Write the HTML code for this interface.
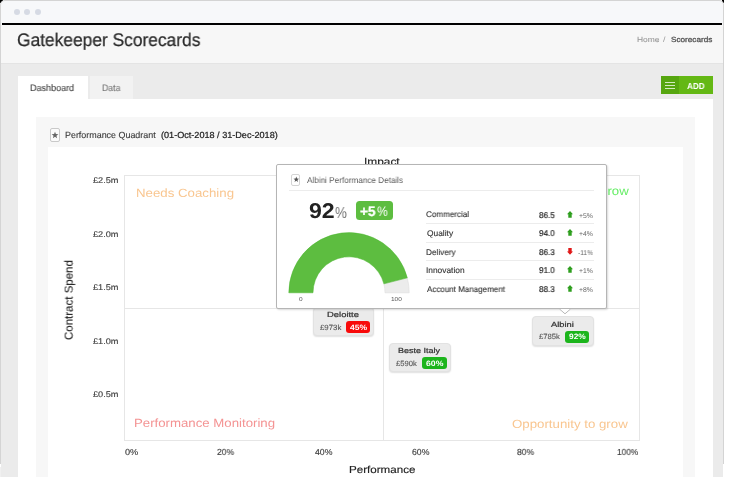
<!DOCTYPE html>
<html><head><meta charset="utf-8"><style>
html,body{margin:0;padding:0;width:729px;height:477px;overflow:hidden;background:#fff;}
body{position:relative;font-family:"Liberation Sans", sans-serif;}
.r{position:absolute;box-sizing:border-box;}
.t{position:absolute;white-space:nowrap;font-family:"Liberation Sans", sans-serif;transform-origin:0 0;text-rendering:geometricPrecision;will-change:transform;}
</style></head><body>
<div class="r" style="left:0px;top:0px;width:2.50px;height:2.50px;background:#000;border-radius:0 0 2px 0;"></div>
<div class="r" style="left:721.5px;top:0px;width:2.50px;height:2.50px;background:#000;border-radius:0 0 0 2px;"></div>
<div class="r" style="left:0px;top:0px;width:724.00px;height:463.50px;background:#d4d4d4;border-radius:5px 5px 0 0;"></div>
<div class="r" style="left:1px;top:1px;width:722.00px;height:476.00px;background:#f7f8fa;border-radius:4px 4px 0 0;"></div>
<div class="r" style="left:0px;top:467px;width:1.00px;height:10.00px;background:#f0f0f0;"></div>
<div class="r" style="left:13.7px;top:9px;width:6px;height:6px;border-radius:50%;background:#d6dae4"></div>
<div class="r" style="left:24.4px;top:9px;width:6px;height:6px;border-radius:50%;background:#d6dae4"></div>
<div class="r" style="left:35.1px;top:9px;width:6px;height:6px;border-radius:50%;background:#d6dae4"></div>
<div class="r" style="left:2px;top:23px;width:720.00px;height:2.00px;background:#000;"></div>
<div class="r" style="left:1px;top:25px;width:722.00px;height:38.00px;background:#f7f7f7;"></div>
<div class="r" style="left:1px;top:63px;width:722.00px;height:1.00px;background:#e4e4e4;"></div>
<div class="r" style="left:1px;top:64px;width:722.00px;height:413.00px;background:#ebebeb;"></div>
<div class="r" style="left:18px;top:76px;width:70.00px;height:23.00px;background:#fff;"></div>
<div class="r" style="left:90px;top:76px;width:43.00px;height:23.00px;background:#f2f2f2;"></div>
<div class="r" style="left:661px;top:76px;width:52.00px;height:18.00px;background:#64b814;"></div>
<div class="r" style="left:661px;top:76px;width:18.00px;height:18.00px;background:#56a60f;"></div>
<div class="r" style="left:664.5px;top:82.2px;width:10.30px;height:1.00px;background:#d3ebc0;"></div>
<div class="r" style="left:664.5px;top:85.0px;width:10.30px;height:1.00px;background:#d3ebc0;"></div>
<div class="r" style="left:664.5px;top:87.7px;width:10.30px;height:1.00px;background:#d3ebc0;"></div>
<div class="r" style="left:18px;top:99px;width:695.00px;height:378.00px;background:#fff;"></div>
<div class="r" style="left:36px;top:117px;width:659.00px;height:360.00px;background:#f7f7f7;"></div>
<div class="r" style="left:48px;top:147px;width:635.00px;height:330.00px;background:#fff;"></div>
<div class="r" style="left:49.5px;top:127.8px;width:10.5px;height:14.3px;border:1px solid #c9c9c9;border-radius:2px;background:#fbfbfb"></div>
<svg class="r" style="left:50.9px;top:131.3px" width="8" height="8" viewBox="0 0 9 9"><path d="M4.5 0.8 L5.5 3.5 L8.3 3.6 L6.1 5.3 L6.9 8.1 L4.5 6.5 L2.1 8.1 L2.9 5.3 L0.7 3.6 L3.5 3.5 Z" fill="#666"/></svg>
<div class="r" style="left:124px;top:175px;width:516px;height:266px;border:1px solid #e6e6e6"></div>
<div class="r" style="left:382.5px;top:176px;width:1.00px;height:264.00px;background:#e6e6e6;"></div>
<div class="r" style="left:125px;top:308px;width:514.00px;height:1.00px;background:#e6e6e6;"></div>
<div class="t" style="left:75.4px;top:340px;font-size:11.5px;line-height:11.5px;color:#222;-webkit-text-stroke:0.1px #222;transform-origin:0 0;transform:rotate(-90deg) translateY(-10.4px)">Contract Spend</div>
<div class="t" style="right:100.4px;top:184.5px;font-size:12px;line-height:12px;color:#66ee66;transform-origin:100% 0;transform:scaleX(1.1)">Invest to grow</div>
<div class="r" style="left:313px;top:306.6px;width:61.20px;height:29.40px;background:#ebebeb;border:1px solid #e2e2e2;border-radius:4px;box-shadow:0 1px 1.5px rgba(0,0,0,.12)"></div>
<div class="r" style="left:345.9px;top:321.1px;width:24.10px;height:12.10px;background:#f80a0a;border-radius:3px"></div>
<div class="r" style="left:389.0px;top:342.8px;width:61.90px;height:29.20px;background:#ebebeb;border:1px solid #e2e2e2;border-radius:4px;box-shadow:0 1px 1.5px rgba(0,0,0,.12)"></div>
<div class="r" style="left:421.7px;top:357.2px;width:25.10px;height:11.90px;background:#1cb51c;border-radius:3px"></div>
<div class="r" style="left:532px;top:316px;width:61.60px;height:29.60px;background:#ebebeb;border:1px solid #e2e2e2;border-radius:4px;box-shadow:0 1px 1.5px rgba(0,0,0,.12)"></div>
<div class="r" style="left:565.4px;top:330.8px;width:23.80px;height:12.10px;background:#1cb51c;border-radius:3px"></div>
<div class="t" id="impact" style="left:364.017px;top:158.154px;font-size:10.29px;line-height:10.29px;font-weight:400;color:#222;-webkit-text-stroke:0.15px #222;transform:scaleX(1.1552);">Impact</div>
<div class="r" style="left:276px;top:164px;width:331px;height:145px;background:#fff;border:1px solid #b5b5b5;border-radius:2px;box-shadow:1px 1px 2px rgba(0,0,0,.15)"></div>
<svg class="r" style="left:558px;top:308.5px" width="14" height="6" viewBox="0 0 14 6"><path d="M1.5 0 L7 4.8 L12.5 0" fill="#fff" stroke="#b9b9b9" stroke-width="1"/></svg>
<div class="r" style="left:291.3px;top:173.5px;width:8.9px;height:12px;border:1px solid #d4d4d4;border-radius:2px"></div>
<svg class="r" style="left:292.8px;top:176.4px" width="6.6" height="6.6" viewBox="0 0 9 9"><path d="M4.5 0.8 L5.5 3.5 L8.3 3.6 L6.1 5.3 L6.9 8.1 L4.5 6.5 L2.1 8.1 L2.9 5.3 L0.7 3.6 L3.5 3.5 Z" fill="#555"/></svg>
<div class="r" style="left:289px;top:189.5px;width:305.00px;height:1.00px;background:#ececec;"></div>
<div class="r" style="left:356px;top:200.9px;width:36.80px;height:19.30px;background:#5dbd40;border-radius:3.5px;"></div>
<svg class="r" style="left:0;top:0" width="729" height="477"><path d="M407.31 277.83 A60.2 60.2 0 0 1 409.20 292.80 L385.00 292.80 A36 36 0 0 0 383.87 283.85 Z" fill="#ececec" stroke="#dedede" stroke-width="0.6"/><path d="M288.80 292.80 A60.2 60.2 0 0 1 407.31 277.83 L383.87 283.85 A36 36 0 0 0 313.00 292.80 Z" fill="#5dbd40" stroke="#4cb630" stroke-width="0.5"/></svg>
<svg class="r" style="left:567.2px;top:210.60px" width="6" height="7" viewBox="0 0 6 7"><path d="M3 0 L6 3.3 L4.7 3.3 L4.7 6.8 L1.3 6.8 L1.3 3.3 L0 3.3 Z" fill="#2e9e1e"/></svg>
<div class="r" style="left:426px;top:223px;width:168.00px;height:1.00px;background:#ececec;"></div>
<svg class="r" style="left:567.2px;top:229.15px" width="6" height="7" viewBox="0 0 6 7"><path d="M3 0 L6 3.3 L4.7 3.3 L4.7 6.8 L1.3 6.8 L1.3 3.3 L0 3.3 Z" fill="#2e9e1e"/></svg>
<div class="r" style="left:426px;top:242px;width:168.00px;height:1.00px;background:#ececec;"></div>
<svg class="r" style="left:567.2px;top:247.70px" width="6" height="7" viewBox="0 0 6 7"><path d="M3 6.8 L6 3.5 L4.7 3.5 L4.7 0 L1.3 0 L1.3 3.5 L0 3.5 Z" fill="#e01818"/></svg>
<div class="r" style="left:426px;top:260px;width:168.00px;height:1.00px;background:#ececec;"></div>
<svg class="r" style="left:567.2px;top:266.25px" width="6" height="7" viewBox="0 0 6 7"><path d="M3 0 L6 3.3 L4.7 3.3 L4.7 6.8 L1.3 6.8 L1.3 3.3 L0 3.3 Z" fill="#2e9e1e"/></svg>
<div class="r" style="left:426px;top:279px;width:168.00px;height:1.00px;background:#ececec;"></div>
<svg class="r" style="left:567.2px;top:284.80px" width="6" height="7" viewBox="0 0 6 7"><path d="M3 0 L6 3.3 L4.7 3.3 L4.7 6.8 L1.3 6.8 L1.3 3.3 L0 3.3 Z" fill="#2e9e1e"/></svg>
<div class="t" id="title" style="left:17.450px;top:30.614px;font-size:18.22px;line-height:18.22px;font-weight:400;color:#2a2a2a;-webkit-text-stroke:0.25px #2a2a2a;transform:scaleX(0.9539);">Gatekeeper Scorecards</div>
<div class="t" id="bc_home" style="left:637.383px;top:35.541px;font-size:7.44px;line-height:7.44px;font-weight:400;color:#999;-webkit-text-stroke:0.1px #999;transform:scaleX(1.1314);">Home</div>
<div class="t" id="bc_sl" style="left:663.300px;top:36.390px;font-size:7.44px;line-height:7.44px;font-weight:400;color:#999;transform:scaleX(1.1995);">/</div>
<div class="t" id="bc_sc" style="left:671.238px;top:36.390px;font-size:7.44px;line-height:7.44px;font-weight:400;color:#555;-webkit-text-stroke:0.3px #555;transform:scaleX(1.0982);">Scorecards</div>
<div class="t" id="tab1" style="left:29.534px;top:83.025px;font-size:9.43px;line-height:9.43px;font-weight:400;color:#444;-webkit-text-stroke:0.12px #444;transform:scaleX(0.9582);">Dashboard</div>
<div class="t" id="tab2" style="left:102.260px;top:82.737px;font-size:9.43px;line-height:9.43px;font-weight:400;color:#777;-webkit-text-stroke:0.12px #777;transform:scaleX(0.9211);">Data</div>
<div class="t" id="add" style="left:686.837px;top:81.686px;font-size:8.84px;line-height:8.84px;font-weight:700;color:#fff;transform:scaleX(0.9202);">ADD</div>
<div class="t" id="pq" style="left:64.845px;top:130.982px;font-size:8.9px;line-height:8.9px;font-weight:400;color:#3a3a3a;-webkit-text-stroke:0.12px #3a3a3a;transform:scaleX(1.0045);">Performance Quadrant</div>
<div class="t" id="pqd" style="left:160.565px;top:130.682px;font-size:8.9px;line-height:8.9px;font-weight:400;color:#222;-webkit-text-stroke:0.22px #222;transform:scaleX(1.0243);">(01-Oct-2018 / 31-Dec-2018)</div>
<div class="t" id="y25" style="left:92.500px;top:176.771px;font-size:8.26px;line-height:8.26px;font-weight:400;color:#404040;-webkit-text-stroke:0.15px #404040;transform:scaleX(1.1109);">£2.5m</div>
<div class="t" id="y20" style="left:92.500px;top:230.621px;font-size:8.26px;line-height:8.26px;font-weight:400;color:#404040;-webkit-text-stroke:0.15px #404040;transform:scaleX(1.1109);">£2.0m</div>
<div class="t" id="y15" style="left:92.500px;top:283.971px;font-size:8.26px;line-height:8.26px;font-weight:400;color:#404040;-webkit-text-stroke:0.15px #404040;transform:scaleX(1.1109);">£1.5m</div>
<div class="t" id="y10" style="left:92.500px;top:337.571px;font-size:8.26px;line-height:8.26px;font-weight:400;color:#404040;-webkit-text-stroke:0.15px #404040;transform:scaleX(1.1109);">£1.0m</div>
<div class="t" id="y05" style="left:92.500px;top:390.521px;font-size:8.26px;line-height:8.26px;font-weight:400;color:#404040;-webkit-text-stroke:0.15px #404040;transform:scaleX(1.1109);">£0.5m</div>
<div class="t" id="x0" style="left:125.403px;top:447.643px;font-size:8.71px;line-height:8.71px;font-weight:400;color:#404040;-webkit-text-stroke:0.15px #404040;transform:scaleX(1.0548);">0%</div>
<div class="t" id="x20" style="left:217.348px;top:447.643px;font-size:8.71px;line-height:8.71px;font-weight:400;color:#404040;-webkit-text-stroke:0.15px #404040;transform:scaleX(0.9762);">20%</div>
<div class="t" id="x40" style="left:314.701px;top:447.643px;font-size:8.71px;line-height:8.71px;font-weight:400;color:#404040;-webkit-text-stroke:0.15px #404040;transform:scaleX(0.9963);">40%</div>
<div class="t" id="x60" style="left:411.739px;top:447.643px;font-size:8.71px;line-height:8.71px;font-weight:400;color:#404040;-webkit-text-stroke:0.15px #404040;">60%</div>
<div class="t" id="x80" style="left:516.633px;top:447.643px;font-size:8.71px;line-height:8.71px;font-weight:400;color:#404040;-webkit-text-stroke:0.15px #404040;transform:scaleX(0.9771);">80%</div>
<div class="t" id="x100" style="left:616.789px;top:447.643px;font-size:8.71px;line-height:8.71px;font-weight:400;color:#404040;-webkit-text-stroke:0.15px #404040;transform:scaleX(0.9549);">100%</div>
<div class="t" id="perf" style="left:349.057px;top:466.084px;font-size:10.14px;line-height:10.14px;font-weight:400;color:#222;-webkit-text-stroke:0.15px #222;transform:scaleX(1.1456);">Performance</div>
<div class="t" id="q1" style="left:135.538px;top:187.998px;font-size:11.96px;line-height:11.96px;font-weight:400;color:#f9c690;transform:scaleX(1.1091);">Needs Coaching</div>
<div class="t" id="q3" style="left:134.441px;top:418.448px;font-size:11.96px;line-height:11.96px;font-weight:400;color:#f49393;transform:scaleX(1.1060);">Performance Monitoring</div>
<div class="t" id="q4" style="left:511.769px;top:419.498px;font-size:11.96px;line-height:11.96px;font-weight:400;color:#f9c690;transform:scaleX(1.1095);">Opportunity to grow</div>
<div class="t" id="tt_title" style="left:306.900px;top:175.681px;font-size:8.49px;line-height:8.49px;font-weight:400;color:#5a5a5a;transform:scaleX(0.9618);">Albini Performance Details</div>
<div class="t" id="big92" style="left:308.806px;top:200.586px;font-size:21.43px;line-height:21.43px;font-weight:700;color:#222;transform:scaleX(1.0795);">92</div>
<div class="t" id="bigpct" style="left:334.599px;top:205.721px;font-size:15.86px;line-height:15.86px;font-weight:400;color:#777;transform:scaleX(0.8434);">%</div>
<div class="t" id="b5" style="left:360.000px;top:205.338px;font-size:13.89px;line-height:13.89px;font-weight:700;color:#fff;-webkit-text-stroke:0.3px #fff;transform:scaleX(0.9860);">+5</div>
<div class="t" id="b5p" style="left:376.739px;top:205.057px;font-size:13.89px;line-height:13.89px;font-weight:400;color:#fff;transform:scaleX(0.8676);">%</div>
<div class="t" id="g0" style="left:299.104px;top:298.293px;font-size:5.71px;line-height:5.71px;font-weight:400;color:#555;transform:scaleX(1.1429);">0</div>
<div class="t" id="g100" style="left:391.143px;top:298.293px;font-size:5.71px;line-height:5.71px;font-weight:400;color:#555;transform:scaleX(1.1425);">100</div>
<div class="t" id="r0l" style="left:426.454px;top:210.231px;font-size:8.29px;line-height:8.29px;font-weight:400;color:#333;-webkit-text-stroke:0.12px #333;transform:scaleX(0.9771);">Commercial</div>
<div class="t" id="r0v" style="left:538.673px;top:210.736px;font-size:8.43px;line-height:8.43px;font-weight:400;color:#222;-webkit-text-stroke:0.2px #222;transform:scaleX(0.9585);">86.5</div>
<div class="t" id="r0p" style="left:579.429px;top:213.671px;font-size:6.86px;line-height:6.86px;font-weight:400;color:#666;transform:scaleX(0.9895);">+5%</div>
<div class="t" id="r1l" style="left:426.525px;top:228.981px;font-size:8.29px;line-height:8.29px;font-weight:400;color:#333;-webkit-text-stroke:0.12px #333;transform:scaleX(1.0125);">Quality</div>
<div class="t" id="r1v" style="left:538.673px;top:229.386px;font-size:8.43px;line-height:8.43px;font-weight:400;color:#222;-webkit-text-stroke:0.2px #222;transform:scaleX(0.9585);">94.0</div>
<div class="t" id="r1p" style="left:579.429px;top:232.071px;font-size:6.86px;line-height:6.86px;font-weight:400;color:#666;transform:scaleX(0.9895);">+4%</div>
<div class="t" id="r2l" style="left:426.205px;top:247.731px;font-size:8.29px;line-height:8.29px;font-weight:400;color:#333;-webkit-text-stroke:0.12px #333;transform:scaleX(0.9868);">Delivery</div>
<div class="t" id="r2v" style="left:538.673px;top:248.436px;font-size:8.43px;line-height:8.43px;font-weight:400;color:#222;-webkit-text-stroke:0.2px #222;transform:scaleX(0.9585);">86.3</div>
<div class="t" id="r2p" style="left:578.235px;top:250.871px;font-size:6.86px;line-height:6.86px;font-weight:400;color:#666;transform:scaleX(0.9651);">-11%</div>
<div class="t" id="r3l" style="left:426.108px;top:266.081px;font-size:8.29px;line-height:8.29px;font-weight:400;color:#333;-webkit-text-stroke:0.12px #333;transform:scaleX(1.0094);">Innovation</div>
<div class="t" id="r3v" style="left:538.673px;top:266.136px;font-size:8.43px;line-height:8.43px;font-weight:400;color:#222;-webkit-text-stroke:0.2px #222;transform:scaleX(0.9585);">91.0</div>
<div class="t" id="r3p" style="left:579.429px;top:268.571px;font-size:6.86px;line-height:6.86px;font-weight:400;color:#666;transform:scaleX(0.9895);">+1%</div>
<div class="t" id="r4l" style="left:426.858px;top:285.015px;font-size:8.29px;line-height:8.29px;font-weight:400;color:#333;-webkit-text-stroke:0.12px #333;transform:scaleX(0.9671);">Account Management</div>
<div class="t" id="r4v" style="left:538.673px;top:285.136px;font-size:8.43px;line-height:8.43px;font-weight:400;color:#222;-webkit-text-stroke:0.2px #222;transform:scaleX(0.9585);">88.3</div>
<div class="t" id="r4p" style="left:579.429px;top:287.571px;font-size:6.86px;line-height:6.86px;font-weight:400;color:#666;transform:scaleX(0.9895);">+8%</div>
<div class="t" id="dl_n" style="left:327.186px;top:310.584px;font-size:7.35px;line-height:7.35px;font-weight:400;color:#333;-webkit-text-stroke:0.22px #333;transform:scaleX(1.2843);">Deloitte</div>
<div class="t" id="dl_a" style="left:319.695px;top:323.596px;font-size:7.53px;line-height:7.53px;font-weight:400;color:#555;-webkit-text-stroke:0.1px #555;transform:scaleX(1.0412);">£973k</div>
<div class="t" id="dl_p" style="left:349.914px;top:323.619px;font-size:7.76px;line-height:7.76px;font-weight:700;color:#fff;transform:scaleX(1.1039);">45%</div>
<div class="t" id="bi_n" style="left:398.313px;top:347.484px;font-size:7.35px;line-height:7.35px;font-weight:400;color:#333;-webkit-text-stroke:0.22px #333;transform:scaleX(1.2281);">Beste Italy</div>
<div class="t" id="bi_a" style="left:395.798px;top:359.746px;font-size:7.53px;line-height:7.53px;font-weight:400;color:#555;-webkit-text-stroke:0.1px #555;transform:scaleX(1.0120);">£590k</div>
<div class="t" id="bi_p" style="left:425.839px;top:359.719px;font-size:7.76px;line-height:7.76px;font-weight:700;color:#fff;transform:scaleX(1.1218);">60%</div>
<div class="t" id="al_n" style="left:551.439px;top:320.984px;font-size:7.35px;line-height:7.35px;font-weight:400;color:#333;-webkit-text-stroke:0.22px #333;transform:scaleX(1.2681);">Albini</div>
<div class="t" id="al_a" style="left:539.197px;top:332.946px;font-size:7.53px;line-height:7.53px;font-weight:400;color:#555;-webkit-text-stroke:0.1px #555;transform:scaleX(1.0218);">£785k</div>
<div class="t" id="al_p" style="left:569.248px;top:333.319px;font-size:7.76px;line-height:7.76px;font-weight:700;color:#fff;transform:scaleX(1.0823);">92%</div>
</body></html>
